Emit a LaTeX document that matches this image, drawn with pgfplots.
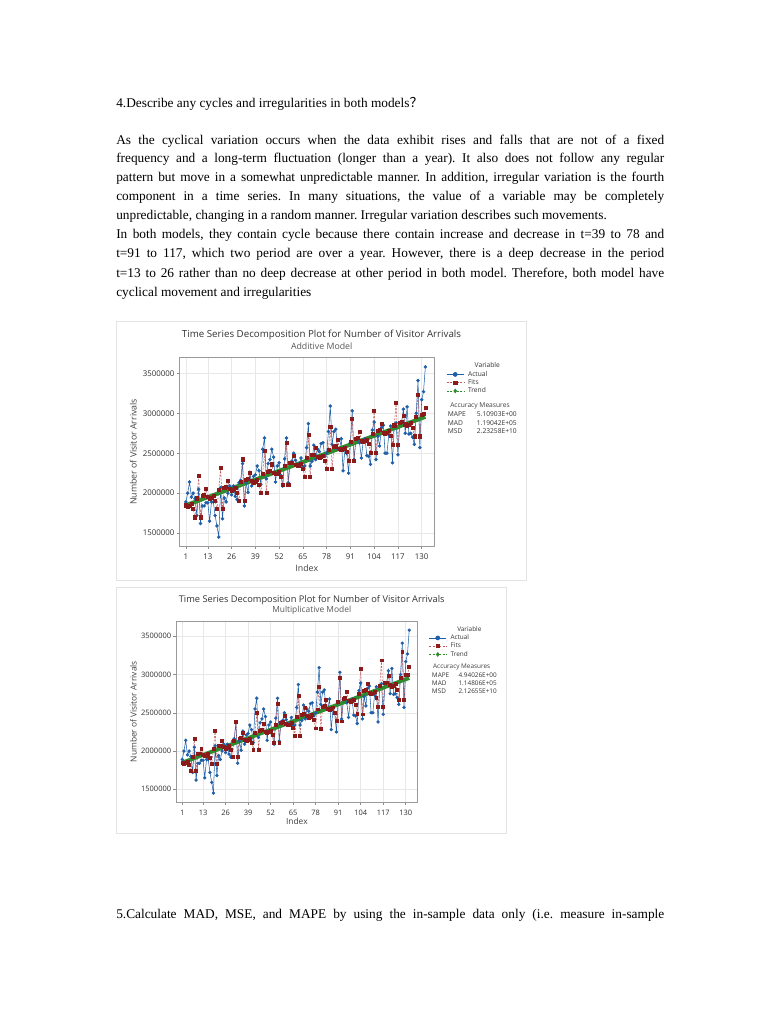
\documentclass[border=0pt]{standalone}
\usepackage{fontspec}
\setmainfont{Liberation Serif}
\newfontfamily\cf{Open Sans}
\newfontfamily\cjk{Noto Sans CJK SC}
\usepackage{pgfplots}
\pgfplotsset{compat=1.18}
\usepackage{pgfplotstable}
\definecolor{actblue}{HTML}{1F5FA8}
\definecolor{fitred}{HTML}{8B1A1A}
\definecolor{fitline}{HTML}{C05A5A}
\definecolor{trendgreen}{HTML}{2E8B2E}
\definecolor{framegray}{HTML}{E3E3E3}

\pgfplotstableread{
t A Fa Fm
1 1890000 1848000 1848000
2 2000000 1831000 1831000
3 2140000 1842000 1842000
4 1950000 1862000 1862000
5 2000000 1802000 1819000
6 1930000 1698000 1739000
7 1720000 1936000 1928000
8 2050000 2221000 2155000
9 1620000 1698000 1744000
10 1840000 1969000 1961000
11 1840000 1979000 1971000
12 1880000 2057000 2033000
13 1880000 1949000 1949000
14 1650000 1932000 1932000
15 1890000 1943000 1943000
16 1890000 1963000 1963000
17 1720000 1903000 1916000
18 1590000 1799000 1831000
19 1450000 2037000 2030000
20 2070000 2322000 2269000
21 1680000 1799000 1836000
22 1940000 2070000 2063000
23 1890000 2080000 2073000
24 2000000 2158000 2139000
25 2090000 2051000 2051000
26 1980000 2034000 2034000
27 2090000 2045000 2045000
28 1960000 2065000 2065000
29 1920000 2005000 2015000
30 2130000 1901000 1925000
31 2160000 2139000 2134000
32 2370000 2424000 2385000
33 1840000 1901000 1928000
34 2130000 2172000 2167000
35 2010000 2182000 2177000
36 2260000 2260000 2245000
37 2090000 2152000 2152000
38 2210000 2135000 2135000
39 2230000 2146000 2146000
40 2340000 2166000 2166000
41 2280000 2106000 2113000
42 2110000 2002000 2018000
43 2550000 2240000 2237000
44 2690000 2525000 2499000
45 2180000 2002000 2020000
46 2370000 2273000 2270000
47 2420000 2283000 2280000
48 2550000 2361000 2351000
49 2450000 2254000 2254000
50 2140000 2237000 2237000
51 2340000 2248000 2248000
52 2380000 2268000 2268000
53 2220000 2208000 2211000
54 2090000 2104000 2112000
55 2430000 2342000 2340000
56 2690000 2627000 2614000
57 2130000 2104000 2113000
58 2380000 2375000 2373000
59 2400000 2385000 2383000
60 2500000 2463000 2458000
61 2410000 2355000 2355000
62 2340000 2338000 2338000
63 2370000 2349000 2349000
64 2440000 2369000 2369000
65 2330000 2309000 2309000
66 2340000 2205000 2205000
67 2570000 2443000 2443000
68 2870000 2728000 2728000
69 2340000 2205000 2205000
70 2400000 2476000 2476000
71 2600000 2486000 2486000
72 2420000 2564000 2564000
73 2550000 2456000 2456000
74 2520000 2439000 2439000
75 2620000 2450000 2450000
76 2630000 2470000 2470000
77 2460000 2410000 2407000
78 2500000 2306000 2298000
79 2770000 2544000 2546000
80 3090000 2829000 2842000
81 2610000 2306000 2297000
82 2770000 2577000 2579000
83 2800000 2587000 2589000
84 2550000 2665000 2670000
85 2540000 2558000 2558000
86 2680000 2541000 2541000
87 2280000 2552000 2552000
88 2550000 2572000 2572000
89 2500000 2512000 2505000
90 2250000 2408000 2392000
91 2630000 2646000 2649000
92 3030000 2931000 2958000
93 2420000 2408000 2389000
94 2670000 2679000 2682000
95 2670000 2689000 2692000
96 2630000 2767000 2777000
97 2440000 2659000 2659000
98 2650000 2642000 2642000
99 2680000 2653000 2653000
100 2470000 2673000 2673000
101 2460000 2613000 2603000
102 2360000 2509000 2484000
103 2790000 2747000 2752000
104 2890000 3032000 3072000
105 2420000 2509000 2481000
106 2710000 2780000 2785000
107 2590000 2790000 2795000
108 2820000 2868000 2883000
109 2850000 2761000 2761000
110 2500000 2744000 2744000
111 2500000 2755000 2755000
112 2730000 2775000 2775000
113 2840000 2715000 2701000
114 2380000 2611000 2578000
115 2840000 2849000 2856000
116 2880000 3134000 3187000
117 2480000 2611000 2574000
118 2880000 2882000 2889000
119 2890000 2892000 2899000
120 3050000 2970000 2990000
121 2750000 2862000 2862000
122 3080000 2845000 2845000
123 2740000 2856000 2856000
124 2750000 2876000 2876000
125 2700000 2816000 2799000
126 2610000 2712000 2671000
127 3000000 2950000 2958000
128 3410000 3235000 3301000
129 2570000 2712000 2666000
130 3170000 2983000 2991000
131 3270000 2993000 3001000
132 3580000 3071000 3096000
}\decomp

\pgfplotsset{
  legend image code/.code={\draw[mark repeat=2,mark phase=2,#1] plot coordinates {(0cm,0cm) (0.22cm,0cm) (0.44cm,0cm)};},
  dstyle/.style={
    scale only axis,
    xmin=-2.6, xmax=136.9,
    ymin=1330000, ymax=3700000,
    xtick={1,13,26,39,52,65,78,91,104,117,130},
    ytick={1500000,2000000,2500000,3000000,3500000},
    scaled y ticks=false,
    yticklabel style={/pgf/number format/fixed,/pgf/number format/1000 sep={}, inner sep=1.5pt},
    /pgf/number format/assume math mode=true,
    grid=major,
    major grid style={draw=black!9, line width=0.4pt},
    axis line style={draw=black!40, line width=0.6pt},
    tick style={draw=black!45, line width=0.4pt},
    tick align=outside, major tick length=2pt,
    tick pos=left,
    ticklabel style={text=black!82},
    legend cell align=left,
    legend style={draw=none, fill=none, anchor=north west, inner sep=0pt,
      row sep=0.4pt,
      /tikz/every odd column/.append style={column sep=2.5pt},
      nodes={inner sep=0.6pt, text height=3.6pt, text depth=1pt, text=black!80}},
  }
}

\begin{document}
\begin{tikzpicture}
\begin{scope}[x=0.75pt,y=-0.75pt,yshift=768pt]
\fill[white] (0,0) rectangle (768,1024);
\begin{scope}[every node/.style={inner sep=0pt, font=\fontsize{10}{12}\selectfont\frenchspacing}]
\node[anchor=base west] at (116,108) {4.Describe any cycles and irregularities in both models{\cjk ？}};
\node[anchor=base west] at (116,144.7) {\makebox[411pt][s]{As the cyclical variation occurs when the data exhibit rises and falls that are not of a fixed}};
\node[anchor=base west] at (116,163) {\makebox[411pt][s]{frequency and a long-term fluctuation (longer than a year). It also does not follow any regular}};
\node[anchor=base west] at (116,182) {\makebox[411pt][s]{pattern but move in a somewhat unpredictable manner. In addition, irregular variation is the fourth}};
\node[anchor=base west] at (116,200.7) {\makebox[411pt][s]{component in a time series. In many situations, the value of a variable may be completely}};
\node[anchor=base west] at (116,219.7) {unpredictable, changing in a random manner. Irregular variation describes such movements.};
\node[anchor=base west] at (116,238.7) {\makebox[411pt][s]{In both models, they contain cycle because there contain increase and decrease in t=39 to 78 and}};
\node[anchor=base west] at (116,258) {\makebox[411pt][s]{t=91 to 117, which two period are over a year. However, there is a deep decrease in the period}};
\node[anchor=base west] at (116,277.3) {\makebox[411pt][s]{t=13 to 26 rather than no deep decrease at other period in both model. Therefore, both model have}};
\node[anchor=base west] at (116,296.3) {cyclical movement and irregularities};
\node[anchor=base west] at (116,918.7) {\makebox[411pt][s]{5.Calculate MAD, MSE, and MAPE by using the in-sample data only (i.e. measure in-sample}};
\end{scope}
% chart frames
\draw[framegray, line width=0.7pt] (116,321) rectangle (526,580);
\draw[framegray, line width=0.7pt] (116,587) rectangle (506,833);
% chart 1 titles
\node[font=\cf\fontsize{7.3}{8}\selectfont, text=black!80] at (321.5,335) {Time Series Decomposition Plot for Number of Visitor Arrivals};
\node[font=\cf\fontsize{6.6}{7}\selectfont, text=black!65] at (321.7,346.7) {Additive Model};
\node[font=\cf\fontsize{5}{6}\selectfont, text=black!75] at (480,406) {Accuracy Measures};
\begin{scope}[every node/.style={anchor=west, inner sep=0pt, font=\cf\fontsize{5}{6}\selectfont, text=black!80}]
\node at (447.7,414) {MAPE}; \node at (476.7,414) {5.10903E+00};
\node at (447.7,422.7) {MAD}; \node at (476.7,422.7) {1.19042E+05};
\node at (447.7,431) {MSD}; \node at (476.7,431) {2.23258E+10};
\end{scope}
% chart 2 titles
\node[font=\cf\fontsize{6.95}{8}\selectfont, text=black!80] at (311.7,600) {Time Series Decomposition Plot for Number of Visitor Arrivals};
\node[font=\cf\fontsize{6.3}{7}\selectfont, text=black!65] at (311.7,610) {Multiplicative Model};
\node[font=\cf\fontsize{4.8}{6}\selectfont, text=black!75] at (461.7,667.3) {Accuracy Measures};
\begin{scope}[every node/.style={anchor=west, inner sep=0pt, font=\cf\fontsize{4.8}{6}\selectfont, text=black!80}]
\node at (431.7,675) {MAPE}; \node at (458.3,675) {4.94026E+00};
\node at (431.7,683.3) {MAD}; \node at (458.3,683.3) {1.14806E+05};
\node at (431.7,691) {MSD}; \node at (458.3,691) {2.12655E+10};
\end{scope}
\end{scope}

% ---------- Chart 1: additive ----------
\begin{axis}[dstyle,
  at={(134.475pt,357.975pt)}, anchor=south west,
  width=191.25pt, height=142.05pt,
  ticklabel style={font=\cf\fontsize{5.9}{7}\selectfont},
  xlabel={Index}, ylabel={Number of Visitor Arrivals},
  label style={font=\cf\fontsize{6.6}{8}\selectfont, text=black!75},
  xlabel style={at={(axis description cs:0.5,-0.114)}, anchor=center},
  ylabel style={at={(axis description cs:-0.18,0.5)}, anchor=center},
  legend style={at={(1.047,0.975)}, font=\cf\fontsize{5}{6}\selectfont},
]
\addplot[actblue, line width=0.4pt, mark=*, mark size=1.1pt, forget plot] table[x=t,y=A]{\decomp};
\addplot[fitline, line width=0.4pt, dash pattern=on 1.5pt off 1pt, mark=square*, mark size=1.15pt, mark options={solid, fitred}, forget plot] table[x=t,y=Fa]{\decomp};
\addplot[trendgreen, line width=3pt, forget plot] coordinates {(1,1848000) (132,2955000)};
\addlegendimage{empty legend}\addlegendentry{\hspace{5pt}Variable}
\addlegendimage{actblue, line width=0.5pt, mark=*, mark size=1.5pt}\addlegendentry{Actual}
\addlegendimage{fitline, line width=0.5pt, dash pattern=on 1.5pt off 1pt, mark=square*, mark size=1.2pt, mark options={solid, fitred}}\addlegendentry{Fits}
\addlegendimage{trendgreen, line width=0.5pt, dash pattern=on 1.5pt off 1pt, mark=diamond*, mark size=1.4pt, mark options={solid}}\addlegendentry{Trend}
\end{axis}

% ---------- Chart 2: multiplicative ----------
\begin{axis}[dstyle,
  at={(132pt,166.275pt)}, anchor=south west,
  width=181.275pt, height=135.975pt,
  ticklabel style={font=\cf\fontsize{5.6}{7}\selectfont},
  xlabel={Index}, ylabel={Number of Visitor Arrivals},
  label style={font=\cf\fontsize{6.3}{8}\selectfont, text=black!75},
  xlabel style={at={(axis description cs:0.5,-0.103)}, anchor=center},
  ylabel style={at={(axis description cs:-0.176,0.5)}, anchor=center},
  legend style={at={(1.046,0.975)}, font=\cf\fontsize{4.8}{6}\selectfont},
]
\addplot[actblue, line width=0.4pt, mark=*, mark size=1.05pt, forget plot] table[x=t,y=A]{\decomp};
\addplot[fitline, line width=0.4pt, dash pattern=on 1.5pt off 1pt, mark=square*, mark size=1.1pt, mark options={solid, fitred}, forget plot] table[x=t,y=Fm]{\decomp};
\addplot[trendgreen, line width=2.9pt, forget plot] coordinates {(1,1848000) (132,2955000)};
\addlegendimage{empty legend}\addlegendentry{\hspace{5pt}Variable}
\addlegendimage{actblue, line width=0.5pt, mark=*, mark size=1.5pt}\addlegendentry{Actual}
\addlegendimage{fitline, line width=0.5pt, dash pattern=on 1.5pt off 1pt, mark=square*, mark size=1.2pt, mark options={solid, fitred}}\addlegendentry{Fits}
\addlegendimage{trendgreen, line width=0.5pt, dash pattern=on 1.5pt off 1pt, mark=diamond*, mark size=1.4pt, mark options={solid}}\addlegendentry{Trend}
\end{axis}
\end{tikzpicture}
\end{document}
